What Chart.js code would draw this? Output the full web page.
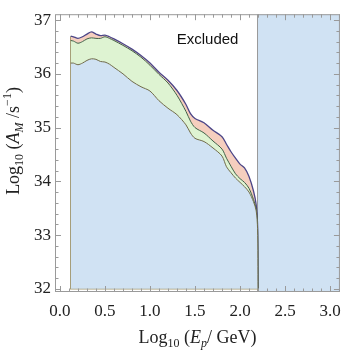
<!DOCTYPE html>
<html lang="en">
<head>
    <meta charset="UTF-8">
    <title>Excluded region</title>
    <script src="https://cdn.jsdelivr.net/npm/chart.js@4.4.1/dist/chart.umd.min.js"></script>
    <style>
        body { margin: 0; background: #fff; }
        canvas { display: block; }
    </style>
</head>
<body>
    <canvas id="chart" width="350" height="350"></canvas>
    <script>
        // values
        const energyX = [0.12, 0.15, 0.2, 0.25, 0.3, 0.35, 0.4, 0.45, 0.5, 0.55, 0.6, 0.7, 0.8, 0.9, 1.0, 1.1, 1.2, 1.3, 1.4, 1.45, 1.5, 1.6, 1.7, 1.8, 1.85, 1.9, 1.95, 2.0, 2.05, 2.1, 2.15, 2.18, 2.195, 2.2];
        const upperCurve = [36.70, 36.69, 36.66, 36.69, 36.74, 36.78, 36.74, 36.71, 36.72, 36.69, 36.65, 36.56, 36.46, 36.34, 36.20, 36.03, 35.88, 35.69, 35.43, 35.26, 35.17, 35.09, 34.95, 34.83, 34.69, 34.55, 34.43, 34.32, 34.25, 34.09, 33.82, 33.56, 33.20, 32.0];
        const middleCurve = [36.62, 36.61, 36.57, 36.60, 36.65, 36.67, 36.66, 36.66, 36.69, 36.66, 36.62, 36.53, 36.43, 36.31, 36.16, 35.99, 35.83, 35.60, 35.30, 35.12, 35.00, 34.90, 34.75, 34.60, 34.43, 34.28, 34.14, 34.05, 33.98, 33.87, 33.66, 33.48, 33.15, 32.0];
        const lowerCurve = [36.20, 36.20, 36.17, 36.20, 36.25, 36.28, 36.27, 36.23, 36.22, 36.18, 36.12, 36.00, 35.86, 35.76, 35.68, 35.50, 35.36, 35.24, 35.05, 34.90, 34.80, 34.74, 34.62, 34.47, 34.27, 34.16, 34.06, 33.98, 33.90, 33.80, 33.62, 33.45, 33.12, 32.0];
        const cutoffX = 2.2;
        const floorY = 32;
        const xTicks = [0, 0.5, 1, 1.5, 2, 2.5, 3];
        const yTicks = [32, 33, 34, 35, 36, 37];
        const xMin = -0.055, xMax = 3.11;
        const yMin = 31.94, yMax = 37.11;
        const excludedLabel = { text: 'Excluded', x: 1.64, y: 36.64 };

        const blue = 'rgb(208, 226, 243)';
        const toPts = (ys) => energyX.map((x, i) => ({ x: x, y: ys[i] }));

        const datasets = [
            {   // below lowest curve
                data: toPts(lowerCurve), borderColor: '#6f6a48', borderWidth: 1,
                backgroundColor: blue, fill: { value: floorY }, pointRadius: 0, tension: 0.3
            },
            {
                data: toPts(middleCurve), borderColor: '#3f5f45', borderWidth: 1,
                backgroundColor: 'rgb(222, 243, 210)', fill: '-1', pointRadius: 0, tension: 0.3
            },
            {
                data: toPts(upperCurve), borderColor: '#4c4688', borderWidth: 1.3,
                backgroundColor: 'rgb(245, 206, 190)', fill: '-1', pointRadius: 0, tension: 0.3
            },
            {   // left and bottom edge
                data: [{ x: energyX[0], y: upperCurve[0] }, { x: energyX[0], y: floorY }, { x: cutoffX, y: floorY }],
                borderColor: '#a39a72', borderWidth: 1.5, fill: false, pointRadius: 0
            },
            {   // region right of cutoff
                data: [{ x: cutoffX, y: yMax + 1 }, { x: xMax + 1, y: yMax + 1 }],
                borderWidth: 0, backgroundColor: blue, fill: { value: yMin - 1 }, pointRadius: 0
            },
            {
                data: [{ x: cutoffX, y: yMin - 1 }, { x: cutoffX, y: yMax + 1 }],
                borderColor: '#555', borderWidth: 1.2, fill: false, pointRadius: 0
            }
        ];

        function richText(ctx, parts, x, y, size) {
            const fontOf = p => (p.it ? 'italic ' : '') + ((p.sub || p.sup) ? Math.round(size * 0.68) : size) + 'px "Liberation Serif"';
            let total = 0;
            parts.forEach(p => { ctx.font = fontOf(p); total += ctx.measureText(p.t).width; });
            let cx = x - total / 2;
            ctx.textAlign = 'left';
            ctx.textBaseline = 'middle';
            parts.forEach(p => {
                ctx.font = fontOf(p);
                const dy = p.sub ? size * 0.32 : (p.sup ? -size * 0.36 : 0);
                ctx.fillText(p.t, cx, y + dy);
                cx += ctx.measureText(p.t).width;
            });
        }

        const framePlugin = {
            id: 'frame',
            afterDraw(chart) {
                const ctx = chart.ctx;
                const a = chart.chartArea;
                const xs = chart.scales.x, ys = chart.scales.y;
                ctx.save();
                ctx.strokeStyle = '#9a9a9a';
                ctx.lineWidth = 1;
                ctx.strokeRect(a.left + 0.5, a.top + 0.5, a.right - a.left - 1, a.bottom - a.top - 1);
                ctx.beginPath();
                for (let i = 0; i <= 31; i++) {
                    const v = i / 10;
                    const px = Math.round(xs.getPixelForValue(v)) + 0.5;
                    const len = i % 5 === 0 ? 6 : 3.5;
                    ctx.moveTo(px, a.bottom); ctx.lineTo(px, a.bottom - len);
                    ctx.moveTo(px, a.top); ctx.lineTo(px, a.top + len);
                }
                for (let i = 0; i <= 25; i++) {
                    const v = 32 + i * 0.2;
                    const py = Math.round(ys.getPixelForValue(v)) + 0.5;
                    const len = i % 5 === 0 ? 6 : 3.5;
                    ctx.moveTo(a.left, py); ctx.lineTo(a.left + len, py);
                    ctx.moveTo(a.right, py); ctx.lineTo(a.right - len, py);
                }
                ctx.stroke();

                ctx.fillStyle = '#111';
                ctx.font = '15px "Liberation Sans"';
                ctx.textAlign = 'center';
                ctx.textBaseline = 'middle';
                ctx.fillText(excludedLabel.text, xs.getPixelForValue(excludedLabel.x), ys.getPixelForValue(excludedLabel.y));

                ctx.fillStyle = '#222';
                richText(ctx, [
                    { t: 'Log' }, { t: '10', sub: true }, { t: ' (' }, { t: 'E', it: true },
                    { t: 'p', it: true, sub: true }, { t: '/ GeV)' }
                ], (a.left + a.right) / 2, 338, 18);

                ctx.translate(14, 141);
                ctx.rotate(-Math.PI / 2);
                richText(ctx, [
                    { t: 'Log' }, { t: '10', sub: true }, { t: ' (' }, { t: 'A', it: true },
                    { t: 'M', it: true, sub: true }, { t: ' /s' }, { t: '\u22121', sup: true }, { t: ')' }
                ], 0, 0, 18);
                ctx.restore();
            }
        };

        new Chart(document.getElementById('chart'), {
            type: 'line',
            data: { datasets: datasets },
            options: {
                responsive: false,
                animation: false,
                layout: { padding: { top: 7, right: 10, left: 0, bottom: 0 } },
                plugins: { legend: { display: false }, tooltip: { enabled: false } },
                scales: {
                    x: {
                        type: 'linear', min: xMin, max: xMax,
                        afterBuildTicks: s => { s.ticks = xTicks.map(v => ({ value: v })); },
                        afterFit: s => { s.height = 58; },
                        grid: { display: false, drawTicks: false }, border: { display: false },
                        ticks: {
                            font: { family: 'Liberation Serif', size: 17 }, color: '#222', padding: 9,
                            maxRotation: 0, autoSkip: false, callback: v => Number(v).toFixed(1)
                        }
                    },
                    y: {
                        type: 'linear', min: yMin, max: yMax,
                        afterBuildTicks: s => { s.ticks = yTicks.map(v => ({ value: v })); },
                        afterFit: s => { s.width = 55; },
                        grid: { display: false, drawTicks: false }, border: { display: false },
                        ticks: {
                            font: { family: 'Liberation Serif', size: 17 }, color: '#222', padding: 4,
                            autoSkip: false, callback: v => String(v)
                        }
                    }
                }
            },
            plugins: [framePlugin]
        });
    </script>
</body>
</html>
